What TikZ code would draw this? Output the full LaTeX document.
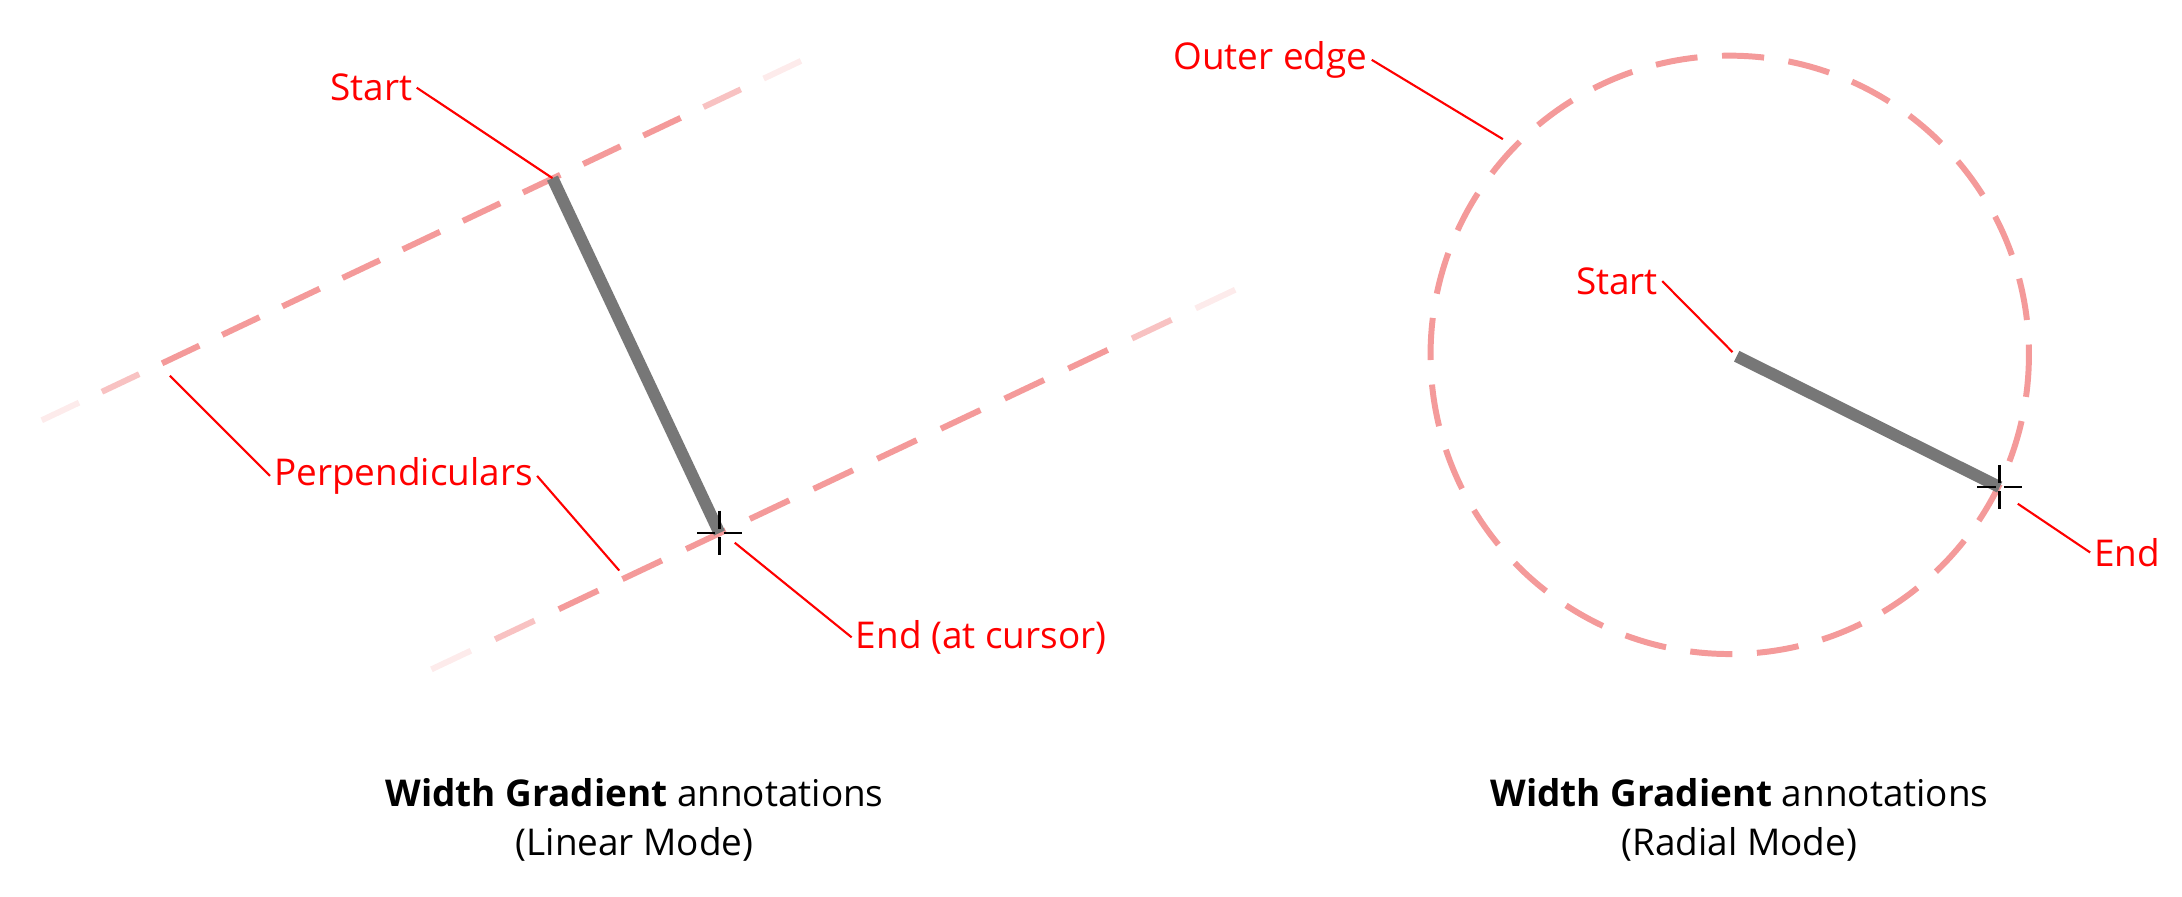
\documentclass[tikz,border=0pt]{standalone}
\usepackage{fontspec}
\setmainfont{Open Sans}
\usetikzlibrary{calc,positioning}

\definecolor{perpcol}{HTML}{F49A9A}
\definecolor{handle}{HTML}{777777}

\tikzset{
  lbl/.style={text=red,font=\fontsize{10.5}{12}\selectfont,inner sep=1pt},
  lead/.style={red,line width=0.6pt},
  perp/.style={perpcol,line width=1.7pt},
  grip/.style={handle,line width=3.4pt},
  capt/.style={font=\fontsize{10.5}{14}\selectfont,align=center}
}

% dashes that fade at both ends
\newcommand{\fadeline}[3]{%
  \foreach \i in {0,...,#3}{
    \pgfmathsetmacro\ta{\i/(#3+1)}
    \pgfmathsetmacro\tb{(\i+0.62)/(#3+1)}
    \pgfmathsetmacro\op{min(1,(\i+0.5)/2.5,(#3+0.5-\i)/2.5)}
    \draw[perp,opacity=\op] ($(#1)!\ta!(#2)$) -- ($(#1)!\tb!(#2)$);
  }}

% crosshair
\newcommand{\cursor}[1]{%
  \draw[black,line width=0.8pt] ($(#1)+(-16,0)$) -- ($(#1)+(-3,0)$)
    ($(#1)+(3,0)$) -- ($(#1)+(16,0)$)
    ($(#1)+(0,-16)$) -- ($(#1)+(0,-3)$)
    ($(#1)+(0,3)$) -- ($(#1)+(0,16)$);}

\begin{document}
\begin{tikzpicture}[x=0.013916cm,y=-0.013916cm]
  \useasboundingbox (0,0) rectangle (1568,644);

  % Linear mode
  \coordinate (ls) at (397,128);
  \coordinate (le) at (517,383);
  \coordinate (u1) at (30,302);
  \coordinate (u2) at (592,36);
  \coordinate (d1) at (310,481);
  \coordinate (d2) at (905,200);
  \fadeline{u1}{u2}{12}
  \fadeline{d1}{d2}{12}
  \draw[grip] (ls) -- (le);
  \cursor{le}

  \node[lbl] (lstart) at (267,63) {Start};
  \draw[lead] (lstart.east) -- (ls);
  \node[lbl] (perps) at (290,342) {Perpendiculars};
  \coordinate (p1) at (122,270);
  \coordinate (p2) at (445,410);
  \draw[lead] (perps.west) -- (p1);
  \draw[lead] (perps.east) -- (p2);
  \node[lbl,anchor=west] (lend) at (612,458) {End (at cursor)};
  \coordinate (lc) at (528,390);
  \draw[lead] (lend.west) -- (lc);

  % Radial mode
  \coordinate (rc) at (1243,255);
  \draw[perp,dash pattern=on 12pt off 7pt] (rc) circle[radius=215];
  \coordinate (rs) at (1248,256);
  \coordinate (re) at (1437,350);
  \draw[grip] (rs) -- (re);
  \cursor{re}

  \node[lbl] (rstart) at (1162,202) {Start};
  \draw[lead] (rstart.east) -- (1245,253);
  \node[lbl] (outer) at (913,43) {Outer edge};
  \coordinate (oe) at (1080,100);
  \draw[lead] (outer.east) -- (oe);
  \node[lbl,anchor=west] (rend) at (1502,397) {End};
  \coordinate (rc2) at (1450,362);
  \draw[lead] (rend.west) -- (rc2);

  % captions
  \node[capt] (lcap) at (456,589) {\textbf{Width Gradient} annotations\\(Linear Mode)};
  \node[capt] (rcap) at (1250,589) {\textbf{Width Gradient} annotations\\(Radial Mode)};
\end{tikzpicture}
\end{document}
